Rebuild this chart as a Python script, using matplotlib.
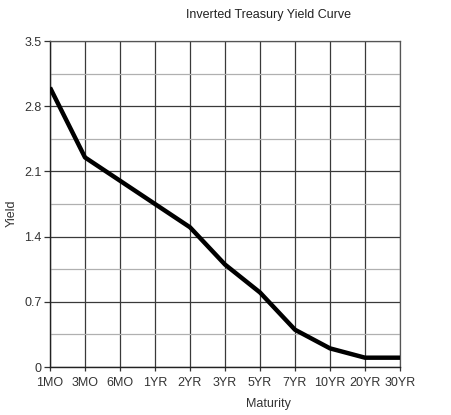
import matplotlib
matplotlib.use("Agg")
import matplotlib.pyplot as plt
import numpy as np

maturities = ["1MO", "3MO", "6MO", "1YR", "2YR", "3YR", "5YR", "7YR", "10YR", "20YR", "30YR"]
yields = [3.0, 2.25, 2.0, 1.75, 1.5, 1.1, 0.8, 0.4, 0.2, 0.1, 0.1]
y_ticks = [0, 0.7, 1.4, 2.1, 2.8, 3.5]
y_tick_labels = ["0", "0.7", "1.4", "2.1", "2.8", "3.5"]
title = "Inverted Treasury Yield Curve"

plt.rcParams['font.family'] = ['Liberation Sans', 'DejaVu Sans']

fig = plt.figure(figsize=(4.52, 4.15), dpi=100)
ax = fig.add_axes([50/452, 1-367/415, 350/452, 326/415])

x = np.arange(len(maturities))
ax.plot(x, yields, color="black", linewidth=3.2, solid_capstyle="butt", solid_joinstyle="round", zorder=5)

ax.set_xlim(0, len(maturities) - 1)
ax.set_ylim(0, 3.5)
ax.set_xticks(x)
ax.set_xticklabels(maturities)
ax.set_yticks(y_ticks)
ax.set_yticklabels(y_tick_labels)
ax.set_yticks(np.arange(0.35, 3.5, 0.7), minor=True)

ax.grid(True, which="major", axis="both", color="#3a3a3a", linewidth=0.9)
ax.grid(True, which="minor", axis="y", color="#b0b0b0", linewidth=0.9)
ax.set_axisbelow(True)

ax.tick_params(axis="both", which="major", labelsize=9, colors="#333333", length=4, width=0.9, pad=2, labelcolor="#333333")
ax.tick_params(axis="y", which="minor", length=0)
ax.tick_params(axis="x", which="major", length=3, pad=4)

for side in ["left", "bottom"]:
    ax.spines[side].set_color("#222222")
    ax.spines[side].set_linewidth(1.0)
for side in ["top", "right"]:
    ax.spines[side].set_color("#555555")
    ax.spines[side].set_linewidth(0.9)

fig.text(268/452, 1-15/415, title, ha="center", va="center", fontsize=9, color="#222222")
fig.text(268/452, 1-404/415, "Maturity", ha="center", va="center", fontsize=9, color="#333333")
fig.text(12/452, 1-213/415, "Yield", ha="center", va="center", rotation=90, fontsize=9, color="#333333")

fig.savefig("out.png", dpi=100, facecolor="white")
